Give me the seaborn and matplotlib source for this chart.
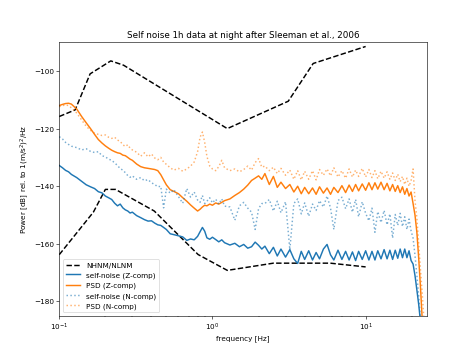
import matplotlib
matplotlib.use("Agg")
import matplotlib.pyplot as plt
import seaborn as sns

# ── Peterson noise model breakpoints ─────────────────────────────────────
nhnm_f = [0.1, 0.127, 0.159, 0.217, 0.263, 1.25, 3.125, 4.545, 10.0]
nhnm_db = [-115.8, -113.5, -101.0, -96.5, -98.0, -120.0, -110.5, -97.4, -91.5]

nlnm_f = [0.1, 0.167, 0.2, 0.233, 0.417, 0.806, 1.25, 2.5, 5.88, 10.0]
nlnm_db = [-163.75, -149.0, -141.1, -141.1, -148.6, -163.7, -169.2, -166.7, -166.7, -168.0]

# ── frequency axis of the spectra [Hz] ───────────────────────────────────
freq = [
    0.100, 0.105, 0.11, 0.115, 0.12, 0.13, 0.14, 0.15, 0.16, 0.17,
    0.18, 0.19, 0.20, 0.21, 0.22, 0.23, 0.24, 0.25, 0.26, 0.27,
    0.28, 0.29, 0.30, 0.32, 0.34, 0.36, 0.38, 0.40, 0.42, 0.44,
    0.46, 0.48, 0.50, 0.53, 0.56, 0.60, 0.64, 0.68, 0.72, 0.76,
    0.80, 0.83, 0.86, 0.89, 0.92, 0.96, 1.0, 1.05, 1.1, 1.15,
    1.2, 1.3, 1.4, 1.5, 1.6, 1.7, 1.8, 1.9, 2.0, 2.1,
    2.2, 2.35, 2.5, 2.65, 2.8, 3.0, 3.2, 3.4, 3.6, 3.8,
    4.0, 4.25, 4.5, 4.75, 5.0, 5.3, 5.6, 5.9, 6.2, 6.6,
    7.0, 7.4, 7.8, 8.2, 8.6, 9.0, 9.5, 10.0, 10.5, 11.0,
    11.5, 12.0, 12.6, 13.2, 13.8, 14.4, 15.0, 15.6, 16.2, 16.8,
    17.4, 18.0, 18.6, 19.2, 19.8, 20.4, 21.0, 21.6, 22.2, 22.8,
    23.4, 24.0, 24.5,
]

# self-noise, Z component [dB]
selfnoise_z = [
    -132.8, -133.6, -134.5, -135.0, -135.9, -137.0, -138.3, -139.5, -140.2, -140.8,
    -141.9, -142.3, -143.4, -144.0, -144.6, -145.9, -146.8, -146.2, -147.5, -148.2,
    -148.6, -149.3, -149.0, -150.2, -150.9, -151.6, -152.1, -152.0, -152.8, -153.4,
    -153.6, -154.3, -155.0, -156.5, -156.8, -157.2, -157.6, -158.8, -158.3, -158.6,
    -157.4, -155.8, -154.3, -155.6, -157.9, -158.4, -157.7, -158.5, -159.3, -158.6,
    -159.6, -160.4, -159.8, -161.0, -160.2, -161.5, -161.0, -159.4, -160.5, -161.8,
    -160.8, -163.4, -161.2, -164.2, -161.8, -164.6, -162.0, -165.2, -166.8, -162.6,
    -165.4, -162.4, -165.6, -163.0, -165.2, -161.8, -160.2, -163.8, -165.6, -162.2,
    -165.4, -162.6, -165.6, -162.8, -165.8, -162.6, -165.4, -162.4, -165.6, -162.6,
    -165.6, -162.4, -165.2, -162.0, -165.2, -162.2, -165.4, -162.2, -165.0, -161.8,
    -164.8, -161.8, -164.8, -162.4, -165.8, -167.0, -171.0, -176.0, -181.0, -187.0,
    -195.0, -200.0, -205.0,
]

# PSD, Z component [dB]
psd_z = [
    -112.0, -111.6, -111.3, -111.2, -111.5, -113.2, -115.8, -118.0, -120.0, -122.0,
    -123.8, -125.0, -126.0, -126.8, -127.5, -128.0, -128.4, -128.6, -129.2, -129.4,
    -130.0, -130.6, -131.0, -132.3, -133.2, -133.6, -133.8, -134.0, -134.2, -134.6,
    -136.0, -137.8, -139.5, -141.2, -141.8, -142.6, -144.0, -145.2, -146.5, -147.6,
    -148.6, -148.0, -147.2, -146.6, -146.8, -146.2, -146.6, -145.8, -146.2, -145.6,
    -145.0, -144.4, -143.2, -142.2, -141.0, -139.6, -138.0, -137.2, -136.4, -137.6,
    -135.6, -139.4, -136.6, -140.4, -138.6, -140.8, -139.4, -142.0, -140.0, -142.6,
    -140.4, -142.6, -140.6, -142.8, -140.2, -142.4, -140.6, -142.8, -140.4, -142.2,
    -139.8, -142.2, -139.6, -141.8, -139.4, -141.6, -139.2, -141.4, -138.8, -141.2,
    -138.8, -141.0, -138.6, -141.2, -139.0, -141.6, -139.4, -141.8, -139.8, -142.2,
    -140.2, -142.8, -140.8, -143.4, -142.0, -146.0, -150.0, -156.0, -165.0, -175.0,
    -186.0, -195.0, -200.0,
]

# self-noise, N component [dB]
selfnoise_n = [
    -122.8, -123.6, -124.8, -125.5, -126.1, -126.6, -127.4, -127.0, -127.9, -128.3,
    -128.0, -129.4, -129.8, -130.6, -131.0, -131.9, -132.8, -133.9, -134.4, -135.3,
    -136.3, -136.9, -136.4, -137.6, -137.0, -138.1, -137.7, -138.8, -139.4, -140.2,
    -140.0, -147.5, -141.0, -142.4, -141.2, -143.6, -145.9, -140.8, -143.8, -142.0,
    -144.8, -145.6, -143.2, -146.0, -145.2, -144.0, -145.8, -144.5, -146.2, -144.4,
    -146.9, -147.2, -151.8, -146.8, -145.6, -147.6, -149.0, -155.0, -147.8, -146.0,
    -146.0, -144.6, -148.6, -145.2, -149.2, -145.4, -162.0, -146.0, -144.4, -149.6,
    -145.8, -150.4, -146.2, -148.4, -145.0, -147.2, -143.4, -147.6, -155.0, -145.0,
    -143.8, -147.8, -144.4, -149.0, -144.6, -150.6, -145.4, -149.4, -152.0, -147.6,
    -156.0, -148.8, -152.6, -148.4, -153.4, -149.6, -158.0, -149.8, -153.6, -149.4,
    -154.0, -150.6, -155.0, -151.4, -155.5, -158.0, -164.0, -171.0, -178.0, -186.0,
    -195.0, -200.0, -205.0,
]

# PSD, N component [dB]
psd_n = [
    -112.4, -112.0, -111.8, -112.0, -112.8, -114.6, -117.0, -119.2, -120.6, -121.6,
    -122.0, -122.4, -122.2, -123.0, -123.4, -123.0, -124.0, -124.4, -125.6, -126.2,
    -125.6, -126.8, -127.4, -128.2, -129.6, -128.4, -129.8, -128.8, -130.2, -130.8,
    -130.0, -131.6, -132.4, -133.6, -134.4, -133.8, -134.8, -134.0, -133.0, -131.6,
    -128.0, -123.0, -121.2, -124.8, -129.6, -133.0, -134.0, -134.6, -133.2, -131.0,
    -133.6, -134.6, -134.0, -135.0, -134.2, -133.0, -134.4, -131.8, -130.4, -133.4,
    -133.0, -134.6, -133.4, -135.6, -133.8, -136.2, -134.4, -137.6, -134.6, -137.8,
    -134.8, -137.6, -134.6, -137.8, -134.2, -136.2, -134.0, -136.4, -133.6, -136.8,
    -134.6, -137.2, -134.0, -136.8, -134.4, -136.6, -133.8, -136.8, -134.2, -137.0,
    -134.6, -137.4, -134.8, -137.2, -135.0, -137.6, -135.4, -138.0, -135.8, -138.4,
    -136.6, -139.4, -137.2, -140.0, -138.0, -134.0, -145.0, -151.0, -160.0, -169.0,
    -177.0, -186.0, -195.0,
]

# original figure was drawn large and scaled down, so use a big canvas at low dpi
DPI = 474 / 9
LW = 2.0
fig, ax = plt.subplots(figsize=(9, 6.75), dpi=DPI)

sns.lineplot(x=nhnm_f, y=nhnm_db, color="k", linestyle="--", lw=LW, label="NHNM/NLNM", ax=ax)
sns.lineplot(x=nlnm_f, y=nlnm_db, color="k", linestyle="--", lw=LW, label="_nolegend_", ax=ax)
sns.lineplot(x=freq, y=selfnoise_z, color="C0", lw=LW, label="self-noise (Z-comp)", ax=ax)
sns.lineplot(x=freq, y=psd_z, color="C1", lw=LW, label="PSD (Z-comp)", ax=ax)
sns.lineplot(x=freq, y=selfnoise_n, color="C0", linestyle=":", lw=LW, alpha=0.6,
             label="self-noise (N-comp)", ax=ax)
sns.lineplot(x=freq, y=psd_n, color="C1", linestyle=":", lw=LW, alpha=0.6,
             label="PSD (N-comp)", ax=ax)

ax.set_xscale("log")
ax.set_xlim(0.1, 25)
ax.set_ylim(-185, -90)
ax.set_xlabel("frequency [Hz]")
ax.set_ylabel(r"Power [dB] rel. to 1(m/s$^2$)$^2$/Hz")
ax.set_title("Self noise 1h data at night after Sleeman et al., 2006")
ax.legend(loc="lower left")

fig.savefig("out.png", dpi=DPI)
